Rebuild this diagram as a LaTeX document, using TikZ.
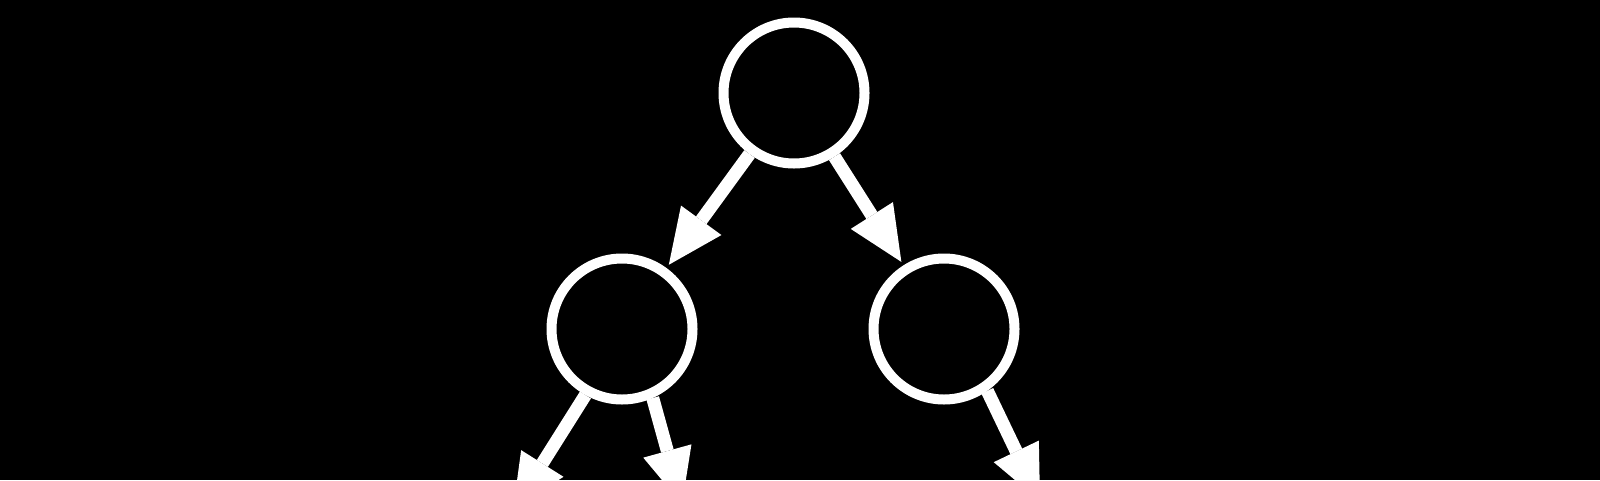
\documentclass[tikz,border=0pt]{standalone}
\usetikzlibrary{arrows.meta}
\begin{document}
\begin{tikzpicture}[x=1pt,y=-1pt,
  treenode/.style={circle,draw=white,line width=10pt,minimum size=141pt,inner sep=0pt},
  treeedge/.style={draw=white,line width=13pt,line cap=butt,
    -{Triangle[length=55pt,width=50pt,line width=0pt]}}]
\fill[black] (0,0) rectangle (1600,480);
\useasboundingbox (0,0) rectangle (1600,480);
\clip (0,0) rectangle (1600,480);
\node[treenode] (root) at (794,93) {};
\node[treenode] (L) at (622,329) {};
\node[treenode] (R) at (944,329) {};
\coordinate (LLend) at (513,510);
\coordinate (LRend) at (682,504);
\coordinate (RRend) at (1040,501);
\draw[treeedge,shorten >=4pt] (root) -- (L);
\draw[treeedge,shorten >=4pt] (root) -- (R);
\draw[treeedge] (L.-119) -- (LLend);
\draw[treeedge] (L.-66) -- (LRend);
\draw[treeedge] (R.-55) -- (RRend);
\end{tikzpicture}
\end{document}
